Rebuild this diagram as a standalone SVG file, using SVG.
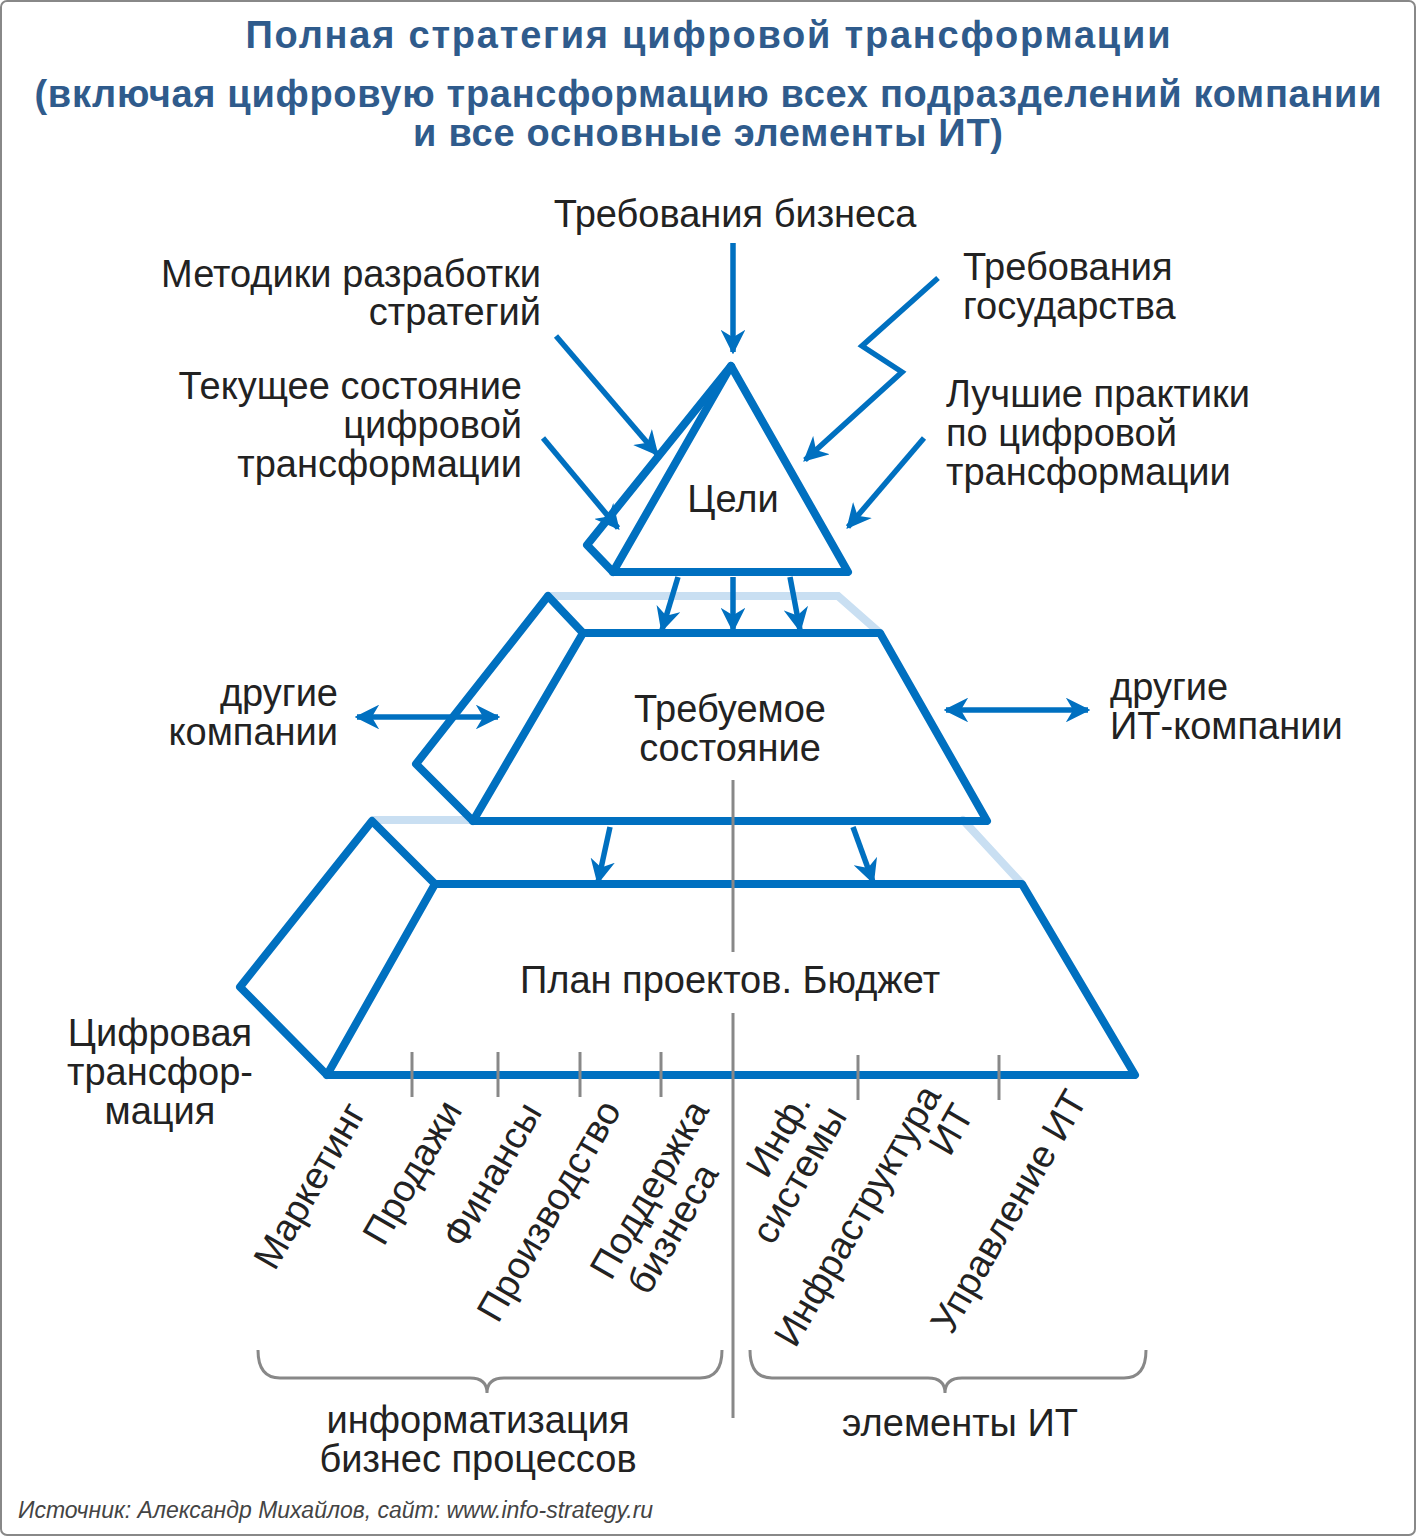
<svg xmlns="http://www.w3.org/2000/svg" width="1416" height="1536" viewBox="0 0 1416 1536">
<defs>
<marker id="ah" viewBox="0 0 10 10" refX="9" refY="5" markerWidth="4.5" markerHeight="4.5" orient="auto-start-reverse" markerUnits="strokeWidth"><path d="M0,0 L10,5 L0,10 L3,5 z" fill="#0070c0"/></marker>
<style>
.t{font-family:"Liberation Sans",Arial,sans-serif;font-size:38px;fill:#222}
.h{font-family:"Liberation Sans",Arial,sans-serif;font-size:38px;font-weight:bold;fill:#2f5b8c}
.b{fill:none;stroke:#0070c0;stroke-width:8;stroke-linejoin:round;stroke-linecap:round}
.l{fill:none;stroke:#c9dff2;stroke-width:8;stroke-linecap:round}
.a{fill:none;stroke:#0070c0;stroke-width:5.5}
.g{stroke:#888;stroke-width:3;fill:none}
</style>
</defs>
<rect x="1" y="1" width="1414" height="1534" rx="6" fill="#fff" stroke="#888" stroke-width="2"/>
<g id="title">
<text class="h" x="708" y="48" text-anchor="middle" textLength="925">Полная стратегия цифровой трансформации</text>
<text class="h" x="708" y="107" text-anchor="middle" textLength="1347">(включая цифровую трансформацию всех подразделений компании</text>
<text class="h" x="708" y="146" text-anchor="middle" textLength="590">и все основные элементы ИТ)</text>
</g>
<g id="light">
<polyline class="l" points="548,596 838,596 880,633"/>
<polyline class="l" points="373,820 473,820"/>
<polyline class="l" points="963,820 1022,884"/>
</g>
<g id="goals">
<polygon class="b" points="731,366 848,572 613,572"/>
<polyline class="b" points="731,366 587,545 613,572"/>
<text class="t" x="733" y="512" text-anchor="middle">Цели</text>
</g>
<g id="required">
<polygon class="b" points="583,633 880,633 987,821 473,821"/>
<polyline class="b" points="583,633 548,596 416,764 473,821"/>
<text class="t" x="730" y="722" text-anchor="middle">Требуемое</text>
<text class="t" x="730" y="761" text-anchor="middle">состояние</text>
</g>
<g id="plan">
<polygon class="b" points="435,884 1022,884 1135,1075 327,1075"/>
<polyline class="b" points="435,884 372,821 240,987 327,1075"/>
<text class="t" x="730" y="993" text-anchor="middle">План проектов. Бюджет</text>
</g>
<g id="dividers">
<line class="g" x1="733" y1="780" x2="733" y2="952"/>
<line class="g" x1="733" y1="1013" x2="733" y2="1418"/>
<line class="g" x1="412" y1="1052" x2="412" y2="1097"/>
<line class="g" x1="498" y1="1052" x2="498" y2="1097"/>
<line class="g" x1="580" y1="1052" x2="580" y2="1097"/>
<line class="g" x1="661" y1="1052" x2="661" y2="1097"/>
<line class="g" x1="858" y1="1055" x2="858" y2="1100"/>
<line class="g" x1="999" y1="1055" x2="999" y2="1100"/>
</g>
<g id="connectors">
<line class="a" x1="733" y1="243" x2="733" y2="352" marker-end="url(#ah)"/>
<line class="a" x1="556" y1="336" x2="657" y2="454" marker-end="url(#ah)"/>
<line class="a" x1="543" y1="438" x2="618" y2="528" marker-end="url(#ah)"/>
<polyline class="a" points="938,278 862,346 902,372 805,460" marker-end="url(#ah)"/>
<line class="a" x1="924" y1="438" x2="848" y2="527" marker-end="url(#ah)"/>
<line class="a" x1="678" y1="577" x2="662" y2="630" marker-end="url(#ah)"/>
<line class="a" x1="733" y1="577" x2="733" y2="630" marker-end="url(#ah)"/>
<line class="a" x1="790" y1="577" x2="800" y2="630" marker-end="url(#ah)"/>
<line class="a" x1="610" y1="827" x2="598" y2="882" marker-end="url(#ah)"/>
<line class="a" x1="853" y1="827" x2="873" y2="882" marker-end="url(#ah)"/>
<line class="a" x1="357" y1="717" x2="498" y2="717" marker-start="url(#ah)" marker-end="url(#ah)"/>
<line class="a" x1="946" y1="710" x2="1088" y2="710" marker-start="url(#ah)" marker-end="url(#ah)"/>
</g>
<g id="labels">
<text class="t" x="735" y="227" text-anchor="middle">Требования бизнеса</text>
<text class="t" x="541" y="287" text-anchor="end">Методики разработки</text>
<text class="t" x="541" y="325" text-anchor="end">стратегий</text>
<text class="t" x="522" y="399" text-anchor="end">Текущее состояние</text>
<text class="t" x="522" y="438" text-anchor="end">цифровой</text>
<text class="t" x="522" y="477" text-anchor="end">трансформации</text>
<text class="t" x="963" y="280">Требования</text>
<text class="t" x="963" y="319">государства</text>
<text class="t" x="946" y="407">Лучшие практики</text>
<text class="t" x="946" y="446">по цифровой</text>
<text class="t" x="946" y="485">трансформации</text>
<text class="t" x="338" y="706" text-anchor="end">другие</text>
<text class="t" x="338" y="745" text-anchor="end">компании</text>
<text class="t" x="1110" y="700">другие</text>
<text class="t" x="1110" y="739">ИТ-компании</text>
<text class="t" x="160" y="1046" text-anchor="middle">Цифровая</text>
<text class="t" x="160" y="1085" text-anchor="middle">трансфор-</text>
<text class="t" x="160" y="1124" text-anchor="middle">мация</text>
</g>
<g id="departments">
<text class="t" transform="translate(367,1112) rotate(-60)" text-anchor="end">Маркетинг</text>
<text class="t" transform="translate(463,1110) rotate(-60)" text-anchor="end">Продажи</text>
<text class="t" transform="translate(543,1112) rotate(-60)" text-anchor="end">Финансы</text>
<text class="t" transform="translate(622,1110) rotate(-60)" text-anchor="end">Производство</text>
<text class="t" transform="translate(710,1110) rotate(-60)" text-anchor="end">Поддержка<tspan x="-50" dy="40">бизнеса</tspan></text>
<text class="t" transform="translate(812,1102) rotate(-60)" text-anchor="end">Инф.<tspan x="6" dy="38">системы</tspan></text>
<text class="t" transform="translate(942,1095) rotate(-60)" text-anchor="end">Инфраструктура<tspan x="0" dy="38">ИТ</tspan></text>
<text class="t" transform="translate(1088,1100) rotate(-60)" text-anchor="end">Управление ИТ</text>
</g>
<g id="braces">
<path class="g" d="M258,1350 Q258,1378 280,1378 L470,1378 Q487,1378 487,1393 Q487,1378 504,1378 L700,1378 Q722,1378 722,1350"/>
<path class="g" d="M750,1350 Q750,1378 772,1378 L928,1378 Q945,1378 945,1393 Q945,1378 962,1378 L1124,1378 Q1146,1378 1146,1350"/>
<text class="t" x="478" y="1433" text-anchor="middle">информатизация</text>
<text class="t" x="478" y="1472" text-anchor="middle">бизнес процессов</text>
<text class="t" x="960" y="1436" text-anchor="middle">элементы ИТ</text>
</g>
<text x="18" y="1518" style="font-family:'Liberation Sans',Arial,sans-serif;font-size:23px;font-style:italic;fill:#444">Источник: Александр Михайлов, сайт: www.info-strategy.ru</text>
</svg>
